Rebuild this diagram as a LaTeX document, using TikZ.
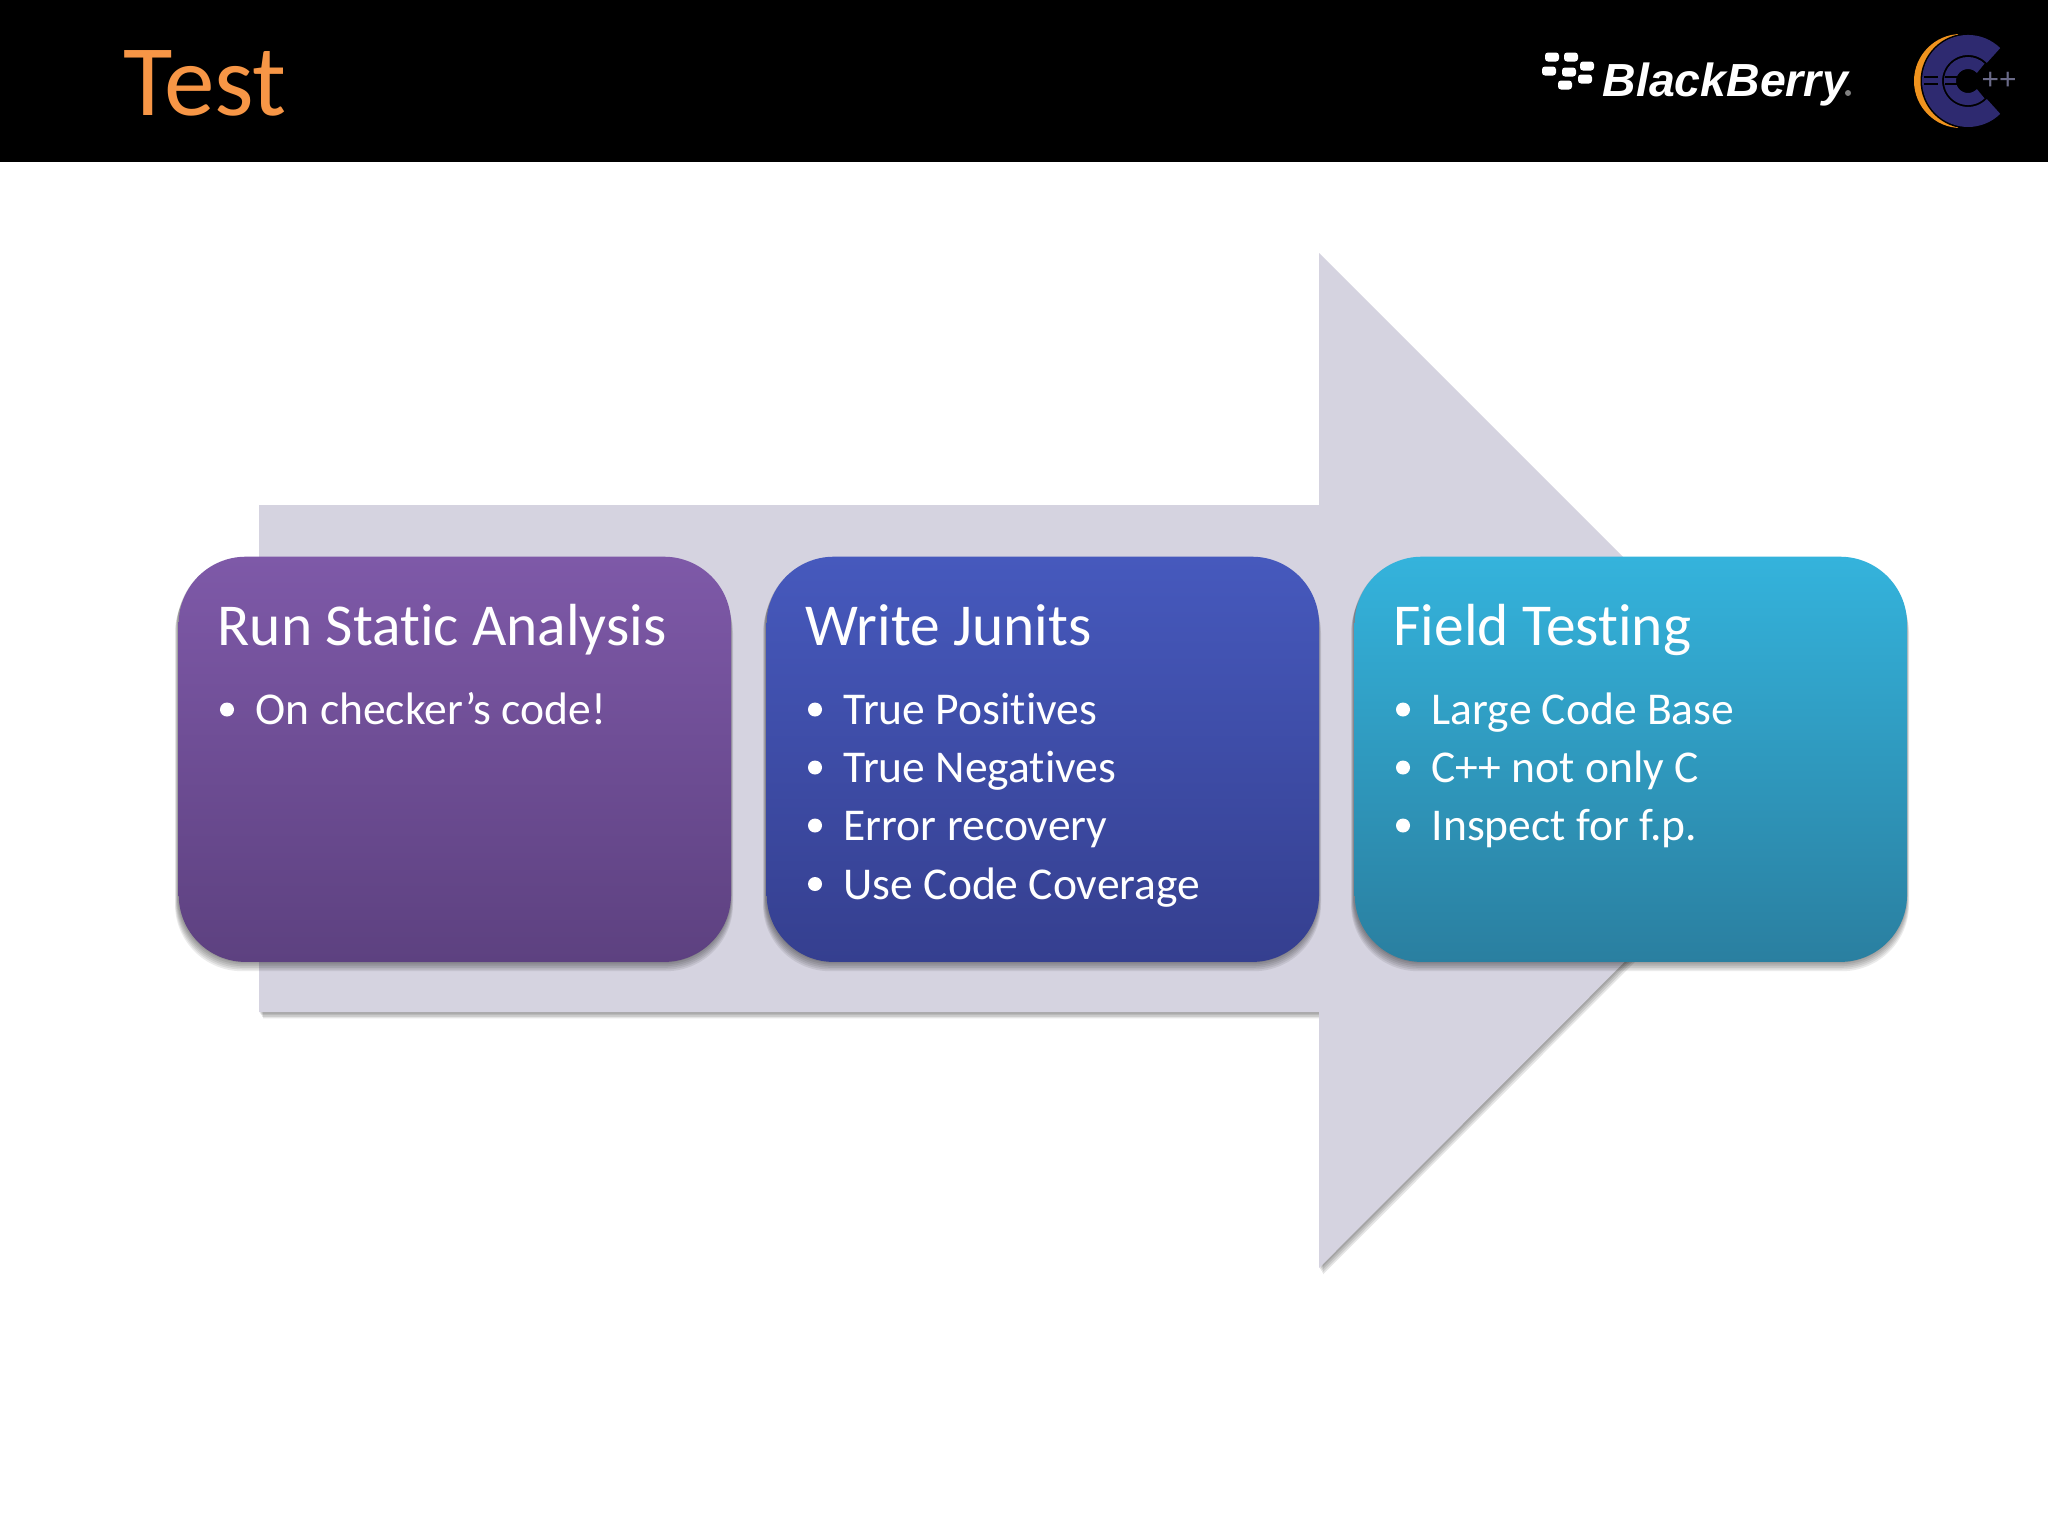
\documentclass[tikz,border=0pt]{standalone}
\usepackage{fontspec}
\setmainfont[Ligatures=NoCommon]{Carlito}
\newfontfamily\logofont{Liberation Sans}
\definecolor{arrowfill}{HTML}{D5D3E0}
\definecolor{navy}{HTML}{2E2A70}
\definecolor{orangeC}{HTML}{F0931E}
\definecolor{titleorange}{HTML}{F79646}
\definecolor{plusgrey}{HTML}{6A6A88}
\definecolor{purpleT}{HTML}{7E59A8}
\definecolor{purpleB}{HTML}{5D4180}
\definecolor{blueT}{HTML}{4659BD}
\definecolor{blueB}{HTML}{353F8F}
\definecolor{tealT}{HTML}{34B3DC}
\definecolor{tealB}{HTML}{2A7FA0}
\tikzset{
  x=0.01cm,y=-0.01cm,
  panel/.style={rounded corners=0.67cm,minimum width=5.52cm,minimum height=4.05cm,anchor=north west,inner sep=0pt,shading angle=0},
  panelshadow/.style={rounded corners=0.67cm,fill=black,opacity=0.08},
  arrowshadow/.style={fill=black,opacity=0.1},
  headtext/.style={text=white,font=\fontsize{16.9}{20}\selectfont,anchor=base west,inner sep=0pt},
  itemtext/.style={text=white,font=\fontsize{12.95}{16}\selectfont,anchor=base west,inner sep=0pt},
  bulletdot/.style={circle,fill=white,minimum size=0.14cm,inner sep=0pt},
  berrydot/.style={fill=white,rounded corners=0.03cm},
}
\newcommand{\panelbox}[4]{%
  \foreach \k in {1,...,6}{
    \fill[panelshadow] (#2-\k*0.5,556+\k*1.7) rectangle ++(552+\k*1.0,405);
  }
  \node[panel,top color=#3,bottom color=#4] (#1) at (#2,556) {};
}
\newcommand{\panelitem}[4]{% name, box x, baseline, text
  \node[bulletdot] (#1b) at (#2+49,#3-15) {};
  \node[itemtext] (#1) at (#2+77,#3) {#4};
}
\newcommand{\berry}[2]{\fill[berrydot] (#1-7,#2-4.5) rectangle ++(14,9);}
\begin{document}
\begin{tikzpicture}
\useasboundingbox (0,0) rectangle (2048,1536);
\fill[white] (0,0) rectangle (2048,1536);
\fill[black] (0,0) rectangle (2048,162);
\node[anchor=base west,inner sep=0pt,text=titleorange,font=\fontsize{28.8}{32}\selectfont] (title) at (123,115.5) {Test};
% BlackBerry logo
\berry{1552}{57}\berry{1571}{57}\berry{1549}{71}\berry{1569}{72}\berry{1587}{66}\berry{1585}{79}\berry{1565}{85}
\node[anchor=base west,inner sep=0pt,text=white,font=\logofont\bfseries\itshape\fontsize{13.2}{16}\selectfont] (bb) at (1602,96) {BlackBerry};
\fill[gray] (1848,93) circle (3);
% C++ logo
\begin{scope}
  \clip (1905,30) rectangle (1958,132);
  \fill[orangeC] (1961,81) circle (47);
\end{scope}
\fill[black] (1968,81) circle (47.5);
\draw[navy,line width=0.2cm] (1993.5,55.5) arc[start angle=-45,end angle=-315,radius=36];
\draw[navy,line width=0.12cm] (1980.7,68.3) arc[start angle=-45,end angle=-315,radius=18];
\foreach \yy in {77,84}{
  \draw[black,line width=0.02cm] (1924,\yy) -- (1938,\yy);
  \draw[black,line width=0.02cm] (1945,\yy) -- (1958,\yy);
}
\node[inner sep=0pt,text=plusgrey,font=\logofont\fontsize{8.5}{10}\selectfont] (cpp) at (1999,81) {++};
% arrow
\foreach \k in {1,...,4}{
  \fill[arrowshadow] (259+\k,505+\k*1.6) -- (1319+\k,505+\k*1.6) -- (1319+\k,253+\k*1.6) -- (1826+\k,760+\k*1.6) -- (1319+\k,1268+\k*1.6) -- (1319+\k,1012+\k*1.6) -- (259+\k,1012+\k*1.6) -- cycle;
}
\fill[arrowfill] (259,505) -- (1319,505) -- (1319,253) -- (1826,760) -- (1319,1268) -- (1319,1012) -- (259,1012) -- cycle;
% panels
\panelbox{a}{178}{purpleT}{purpleB}
\panelbox{b}{766}{blueT}{blueB}
\panelbox{c}{1354}{tealT}{tealB}
\node[headtext] (ah) at (217,645) {Run Static Analysis};
\panelitem{a1}{178}{724.5}{On checker’s code!}
\node[headtext] (bh) at (805,645) {Write Junits};
\panelitem{b1}{766}{724.5}{True Positives}
\panelitem{b2}{766}{782.5}{True Negatives}
\panelitem{b3}{766}{840.5}{Error recovery}
\panelitem{b4}{766}{899}{Use Code Coverage}
\node[headtext] (ch) at (1393,645) {Field Testing};
\panelitem{c1}{1354}{724.5}{Large Code Base}
\panelitem{c2}{1354}{782.5}{C++ not only C}
\panelitem{c3}{1354}{840.5}{Inspect for f.p.}
\end{tikzpicture}
\end{document}
